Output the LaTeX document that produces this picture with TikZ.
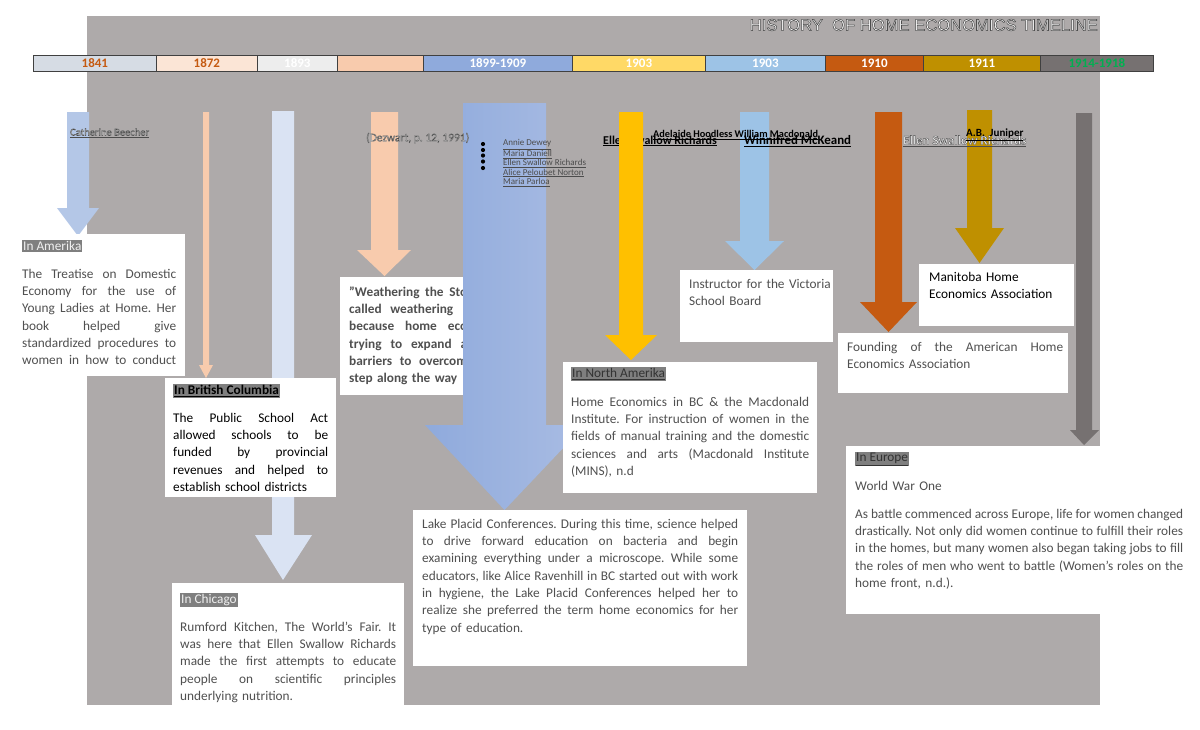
\documentclass[tikz,border=0pt]{standalone}
\usepackage{fontspec}
\setmainfont{Carlito}
\newfontfamily\titlefont{Liberation Sans}
\setlength\parindent{0pt}
\frenchspacing
\definecolor{bgc}{HTML}{AEAAAA}
\definecolor{tgray}{HTML}{505050}
\definecolor{hlgray}{HTML}{7F7F7F}
\definecolor{yrorange}{HTML}{C55A11}
\definecolor{cA}{HTML}{D6DCE4}
\definecolor{cB}{HTML}{FBE5D6}
\definecolor{cC}{HTML}{EDEDED}
\definecolor{cD}{HTML}{F8CBAD}
\definecolor{cE}{HTML}{8FAADC}
\definecolor{cEl}{HTML}{A9BCE3}
\definecolor{cF}{HTML}{FFD966}
\definecolor{cG}{HTML}{9DC3E6}
\definecolor{cH}{HTML}{C55A11}
\definecolor{cI}{HTML}{BF9000}
\definecolor{cJ}{HTML}{767171}
\definecolor{arA}{HTML}{B4C7E7}
\definecolor{arC}{HTML}{DAE3F3}
\definecolor{arF}{HTML}{FFC000}
\definecolor{yrgreen}{HTML}{00B050}
\newdimen\jw
\newcommand\bodyf{\fontsize{13.3}{17.3}\selectfont}
\newcommand\jlw[2]{\leavevmode\hbox to #1{\frenchspacing\spaceskip=0.23em plus 1fil minus 0.06em\xspaceskip=\spaceskip\strut #2}\\}
\newcommand\jl[1]{\jlw{\jw}{#1}}
\newcommand\outl[1]{\special{pdf:literal direct 0.3 0.3 0.3 RG 0.55 w 2 Tr}#1\special{pdf:literal direct 0 Tr}}
\newcommand\outls[1]{\special{pdf:literal direct 0.3 0.3 0.3 RG 0.35 w 2 Tr}#1\special{pdf:literal direct 0 Tr}}
\newcommand\blockarrow[8]{\fill[#1] (#2,#4) -- (#3,#4) -- (#3,#5) -- (#7,#5) -- ({(#2+#3)/2},#8) -- (#6,#5) -- (#2,#5) -- cycle;}
\tikzset{
  cell/.style={draw=black!75, line width=0.8pt, inner sep=0pt, minimum height=16, anchor=west,
    font=\fontsize{13}{13}\selectfont\bfseries, text=white},
  wbox/.style={fill=white, draw=none, inner sep=0pt, anchor=north west},
  txt/.style={anchor=north west, inner sep=0pt, text width=#1, align=left, font=\bodyf, text=tgray,
    execute at begin node={\global\jw=#1pt\relax}},
  hl/.style={fill=hlgray, inner sep=1pt, anchor=west, font=\bodyf, text=white!88!gray},
}
\begin{document}
\begin{tikzpicture}[x=1pt,y=-1pt]
\useasboundingbox (0,0) rectangle (1200,729);
\fill[bgc] (87,16) rectangle (1100,705);
% title
\node[anchor=east, inner sep=0pt, font=\titlefont\fontsize{16.6}{18}\selectfont, text=white] (title) at (1098,25) {\outl{HISTORY\ \ OF HOME ECONOMICS TIMELINE}};
% timeline
\node[cell, fill=cA, minimum width=123, text=yrorange] (y1) at (33,63) {1841};
\node[cell, fill=cB, minimum width=101, text=yrorange] (y2) at (156,63) {1872};
\node[cell, fill=cC, minimum width=80] (y3) at (257,63) {1893};
\node[cell, fill=cD, minimum width=86] (y4) at (337,63) {};
\node[cell, fill=cE, minimum width=149] (y5) at (423,63) {1899-1909};
\node[cell, fill=cF, minimum width=133] (y6) at (572,63) {1903};
\node[cell, fill=cG, minimum width=120] (y7) at (705,63) {1903};
\node[cell, fill=cH, minimum width=98] (y8) at (825,63) {1910};
\node[cell, fill=cI, minimum width=117] (y9) at (923,63) {1911};
\node[cell, fill=cJ, minimum width=113, text=yrgreen] (y10) at (1040,63) {1914-1918};
% label under yellow arrow
\node[anchor=west, inner sep=0pt, font=\fontsize{12}{13}\selectfont\bfseries] (esr1) at (603,141) {\underline{Ellen Swallow Richards}};
% arrows
\blockarrow{arA}{67}{89}{112}{208}{57}{99}{236}
\blockarrow{cD}{203}{209}{112}{365}{199}{213}{378}
\blockarrow{arC}{272}{294}{111}{535}{255}{312}{580}
\blockarrow{cD}{371}{398}{112}{250}{357}{411}{276}
\blockarrow{arF}{619}{643}{112}{335}{605}{657}{360}
\blockarrow{cG}{740}{769}{112}{241}{725}{784}{270}
\blockarrow{cH}{875}{902}{112}{302}{860}{917}{332}
\blockarrow{cI}{967}{992}{110}{228}{955}{1004}{263}
\blockarrow{cJ}{1076}{1092}{113}{430}{1070}{1099}{445}
% weathering box (under the big arrow)
\node[wbox, minimum width=130, minimum height=118] (bWe) at (340,277) {};
\node[txt=121, text=tgray, font=\bodyf\bfseries] (tWe) at (349,284) {\jlw{118pt}{"Weathering the Sto}\jlw{104pt}{called weathering}\jlw{118pt}{because home eco}\jlw{118pt}{trying to expand a}\jlw{118pt}{barriers to overcom}\strut step along the way};
% big arrow
\shade[left color=cE, right color=cEl] (463,103) -- (546,103) -- (546,425) -- (585,425) -- (504.5,510) -- (425,425) -- (463,425) -- cycle;
% boxes
\node[wbox, minimum width=170, minimum height=142] (bAm) at (15,234) {};
\node[hl] (lAm) at (22,246) {In Amerika};
\node[txt=154] (tAm) at (22,266) {\jl{The Treatise on Domestic}\jl{Economy for the use of}\jl{Young Ladies at Home. Her}\jl{book helped give}\jl{standardized procedures to}\leavevmode\hbox to \jw{\spaceskip=0.23em plus 1fil minus 0.06em\strut women in how to conduct}};

\node[wbox, minimum width=171, minimum height=119] (bBC) at (165,378) {};
\node[hl, text=black, font=\bodyf\bfseries] (lBC) at (173,391) {\underline{In British Columbia}};
\node[txt=155, text=black] (tBC) at (173,410) {\jl{The Public School Act}\jl{allowed schools to be}\jl{funded by provincial}\jl{revenues and helped to}\strut establish school districts};

\node[wbox, minimum width=232, minimum height=123] (bCh) at (172,583) {};
\node[hl] (lCh) at (180,600) {In Chicago};
\node[txt=216] (tCh) at (180,619) {\jl{Rumford Kitchen, The World’s Fair. It}\jl{was here that Ellen Swallow Richards}\jl{made the first attempts to educate}\jl{people on scientific principles}\strut underlying nutrition.};

\node[wbox, minimum width=334, minimum height=156] (bLP) at (413,510) {};
\node[txt=316] (tLP) at (422,516) {\jl{Lake Placid Conferences. During this time, science helped}\jl{to drive forward education on bacteria and begin}\jl{examining everything under a microscope. While some}\jl{educators, like Alice Ravenhill in BC started out with work}\jl{in hygiene, the Lake Placid Conferences helped her to}\jl{realize she preferred the term home economics for her}\strut type of education.};

\node[wbox, minimum width=254, minimum height=131] (bNA) at (563,362) {};
\node[hl, text=black!80] (lNA) at (571,374) {\underline{In North Amerika}};
\node[txt=238] (tNA) at (571,394) {\jl{Home Economics in BC \& the Macdonald}\jl{Institute. For instruction of women in the}\jl{fields of manual training and the domestic}\jl{sciences and arts (Macdonald Institute}\strut (MINS), n.d};

\node[wbox, minimum width=153, minimum height=72] (bVi) at (680,270) {};
\node[txt=150] (tVi) at (689,276) {\strut Instructor for the Victoria\\School Board};

\node[wbox, minimum width=155, minimum height=62] (bMa) at (919,264) {};
\node[txt=140, text=black] (tMa) at (929,269) {\strut Manitoba Home\\Economics Association};

\node[wbox, minimum width=230, minimum height=60] (bFo) at (838,333) {};
\node[txt=216] (tFo) at (847,339) {\jl{Founding of the American Home}\strut Economics Association};

\node[wbox, minimum width=340, minimum height=168] (bEu) at (846,446) {};
\node[hl, text=black!80] (lEu) at (855,459) {\underline{In Europe}};
\node[txt=200] (tEu1) at (855,478) {\strut World War One};
\node[txt=328] (tEu) at (855,506) {\jl{As battle commenced across Europe, life for women changed}\jl{drastically. Not only did women continue to fulfill their roles}\jl{in the homes, but many women also began taking jobs to fill}\jl{the roles of men who went to battle (Women’s roles on the}\strut home front, n.d.).};

% top labels
\node[anchor=west, inner sep=0pt, font=\fontsize{10.5}{12}\selectfont, text=white!85!gray] (cb) at (70,133) {\outls{\underline{Catherine Beecher}}};
\node[anchor=west, inner sep=0pt, font=\fontsize{11.5}{12}\selectfont, text=white!85!gray] (dz) at (366,138) {\outls{(Dezwart, p. 12, 1991)}};
\foreach \yy [count=\i] in {144,150,155.5,161.5,168} {\fill[black] (483,\yy) circle (2.1) coordinate (bul\i);}
\node[anchor=north west, inner sep=0pt, align=left, font=\fontsize{9}{6.3}\selectfont, text=black!70] (names) at (503,139.5) {\underline{Annie Dewey}\\\underline{Maria Daniell}\\\underline{Ellen Swallow Richards}\\\underline{Alice Peloubet Norton}\\\underline{Maria Parloa}};
\node[anchor=west, inner sep=0pt, font=\fontsize{10.3}{12}\selectfont\bfseries] (ah) at (653,135) {\underline{Adelaide Hoodless William Macdonald}};
\node[anchor=west, inner sep=0pt, font=\fontsize{12.9}{14}\selectfont\bfseries] (wm) at (744,141) {\underline{Winnifred McKeand}};
\node[anchor=west, inner sep=0pt, font=\fontsize{13}{14}\selectfont\bfseries, text=white!85!gray] (esr2) at (903,141) {\outls{\underline{Ellen Swallow Richards}}};
\node[anchor=west, inner sep=0pt, font=\fontsize{11}{12}\selectfont\bfseries] (abj) at (966,135) {\underline{A.B.\ \ Juniper}};
\end{tikzpicture}
\end{document}
